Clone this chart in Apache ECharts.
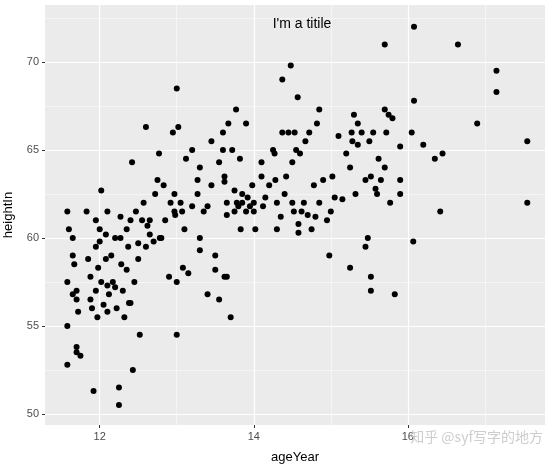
<!DOCTYPE html><html><head><meta charset="utf-8"><script src="https://cdn.jsdelivr.net/npm/echarts@6/dist/echarts.min.js"></script>
<style>html,body{margin:0;padding:0;background:#fff}#c{width:555px;height:468px}</style></head><body><div id="c"></div><script>
const points=[[11.58,61.5],[11.58,57.5],[11.58,55],[11.58,52.8],[11.6,60.5],[11.65,60],[11.65,59],[11.67,58.5],[11.7,56.5],[11.7,57],[11.7,53.8],[11.7,53.5],[11.75,53.3],[11.65,56.8],[11.72,55.8],
[11.83,61.5],[11.85,58.8],[11.88,57.8],[11.88,56.5],[11.9,56],[11.92,51.3],[11.95,61],[11.95,59.5],[11.95,57],[11.97,55.5],[11.98,58.3],[12.0,60.5],[12.0,59.8],[12.02,62.7],[12.02,57.5],[12.05,56.2],[12.08,60.2],[12.1,61.5],[12.1,57.3],[12.08,58.8],[12.1,55.8],
[12.12,56.8],[12.15,59],[12.17,57.5],[12.2,60],[12.2,57.2],[12.22,56],[12.25,51.5],[12.25,50.5],[12.27,61.2],[12.27,60],[12.28,58.5],[12.3,57],[12.32,55.5],[12.35,60.5],[12.35,58.2],[12.37,59.5],[12.38,56.3],[12.4,56.3],[12.4,61],[12.42,64.3],[12.43,52.5],[12.45,57.5],[12.47,61.5],[12.5,59.7],[12.5,58.8],[12.52,54.5],[12.55,61],[12.57,62],[12.6,66.3],[12.6,59.5],[12.62,60.7],[12.65,60.2],[12.65,61],[12.7,59.8],[12.72,62.5],[12.75,63.3],[12.77,64.8],[12.78,60],[12.8,60],[12.83,63],[12.85,61],[12.9,57.8],[12.92,62],[12.95,66],[12.97,62.5],[12.97,61.5],[12.98,61.3],[13.0,68.5],[13.0,57.5],[13.0,54.5],[13.02,66.3],[13.05,62],[13.07,61.5],[13.08,58.3],[13.1,60.5],
[13.12,64.5],[13.15,58],[13.2,65],[13.2,61.8],[13.27,63.3],[13.27,62.5],[13.3,59.3],[13.3,60],[13.3,64],[13.35,61.5],[13.4,56.8],[13.4,61.8],[13.45,65.5],[13.45,63],[13.5,59],[13.5,58.2],[13.55,64.3],[13.55,56.5],[13.6,66],[13.6,65],[13.62,63.5],[13.62,63.2],[13.65,62],[13.65,61.3],[13.62,57.8],[13.65,57.8],[13.67,66.5],[13.7,55.5],[13.72,65],[13.75,62.7],[13.75,61.5],[13.77,67.3],[13.78,62],[13.8,61.8],[13.82,64.5],[13.83,60.5],[13.85,62.5],[13.85,62],[13.9,66.5],[13.9,61.5],[13.92,62.3],[13.95,61.8],[13.98,63],[14.0,62],[14.0,61.5],[14.02,60.5],
[14.1,64.3],[14.1,63.5],[14.12,61.8],[14.15,62.3],[14.2,63],[14.25,65],[14.27,64.8],[14.28,63.3],[14.3,62],[14.3,60.5],[14.35,61.2],[14.37,66],[14.37,69],[14.4,62.5],[14.42,63.5],[14.45,66],[14.48,69.8],[14.5,64.3],[14.5,62],[14.52,61.5],[14.53,66],[14.55,65],[14.57,68],[14.58,60.3],[14.58,60.8],[14.6,64.8],[14.62,61.5],[14.65,62],[14.67,65.5],[14.7,61.3],[14.72,66],[14.75,60.5],[14.78,63],[14.8,61.2],[14.82,66.5],[14.85,67.3],[14.85,62],[14.9,63.3],[14.95,61],[15.0,61.5],[14.98,59],[15.02,63.5],[15.05,62.3],
[15.1,65.8],[15.15,62.2],[15.2,64.8],[15.25,58.3],[15.25,64],[15.27,66],[15.28,65.5],[15.3,67],[15.32,62.5],[15.35,65.3],[15.35,66.5],[15.4,66],[15.45,63.3],[15.45,59.5],[15.48,60],[15.5,65.5],[15.52,63.5],[15.52,57.8],[15.52,57],[15.55,66],[15.58,62.8],[15.6,62.5],[15.62,64.5],[15.65,63.3],[15.7,67.3],[15.7,71],[15.7,64],[15.72,66],[15.75,67],[15.77,62],[15.8,66.8],[15.83,56.8],[15.9,65.2],[15.9,63.3],[15.9,62.5],[16.05,66],[16.07,59.8],[16.08,67.8],[16.08,72],[16.2,65.3],[16.35,64.5],[16.42,61.5],[16.45,64.8],[16.65,71],[16.9,66.5],[17.15,69.5],[17.15,68.3],[17.55,65.5],[17.55,62]];
const xMajor=[12,14,16], xMinor=[13,15,17];
const yMajor=[50,55,60,65,70], yMinor=[52.5,57.5,62.5,67.5,72.5];
const c=echarts.init(document.getElementById('c'));
const lbl={color:'#4D4D4D',fontSize:11,fontFamily:'Liberation Sans'};
const ml=[...xMajor.map(v=>({xAxis:v,lineStyle:{width:1.2}})),...xMinor.map(v=>({xAxis:v,lineStyle:{width:0.5}})),
 ...yMajor.map(v=>({yAxis:v,lineStyle:{width:1.2}})),...yMinor.map(v=>({yAxis:v,lineStyle:{width:0.5}}))];
c.setOption({animation:false,
 title:{text:"I'm a titile",left:297,top:12,textAlign:'center',textStyle:{fontSize:14,fontWeight:'normal',color:'#000',fontFamily:'Liberation Sans'}},
 grid:{left:45,right:10,top:5,bottom:43,containLabel:false,outerBoundsMode:'none',show:true,backgroundColor:'#EBEBEB',borderWidth:0},
 xAxis:{type:'value',min:11.29,max:17.78,name:'ageYear',nameLocation:'middle',nameGap:26,nameTextStyle:{fontSize:13,color:'#000',fontFamily:'Liberation Sans'},
  axisLine:{show:false},splitLine:{show:false},axisTick:{show:true,customValues:xMajor,length:3,lineStyle:{color:'#333'}},axisLabel:{...lbl,customValues:xMajor,margin:6}},
 yAxis:{type:'value',min:49.37,max:73.24,name:'heightIn',nameLocation:'middle',nameGap:30,nameTextStyle:{fontSize:13,color:'#000',fontFamily:'Liberation Sans'},
  axisLine:{show:false},splitLine:{show:false},axisTick:{show:true,customValues:yMajor,length:3,lineStyle:{color:'#333'}},axisLabel:{...lbl,customValues:yMajor,margin:6}},
 graphic:[{type:'text',right:12,top:430,style:{text:'知乎 @syf写字的地方',fill:'rgba(200,200,200,0.9)',fontSize:14,fontFamily:'Noto Sans CJK SC'},z:100}],
 series:[{type:'scatter',data:points,symbolSize:6,itemStyle:{color:'#000',opacity:1},z:5,
  markLine:{silent:true,symbol:'none',label:{show:false},lineStyle:{color:'#fff',type:'solid'},data:ml,z:1}}]
});
</script></body></html>
